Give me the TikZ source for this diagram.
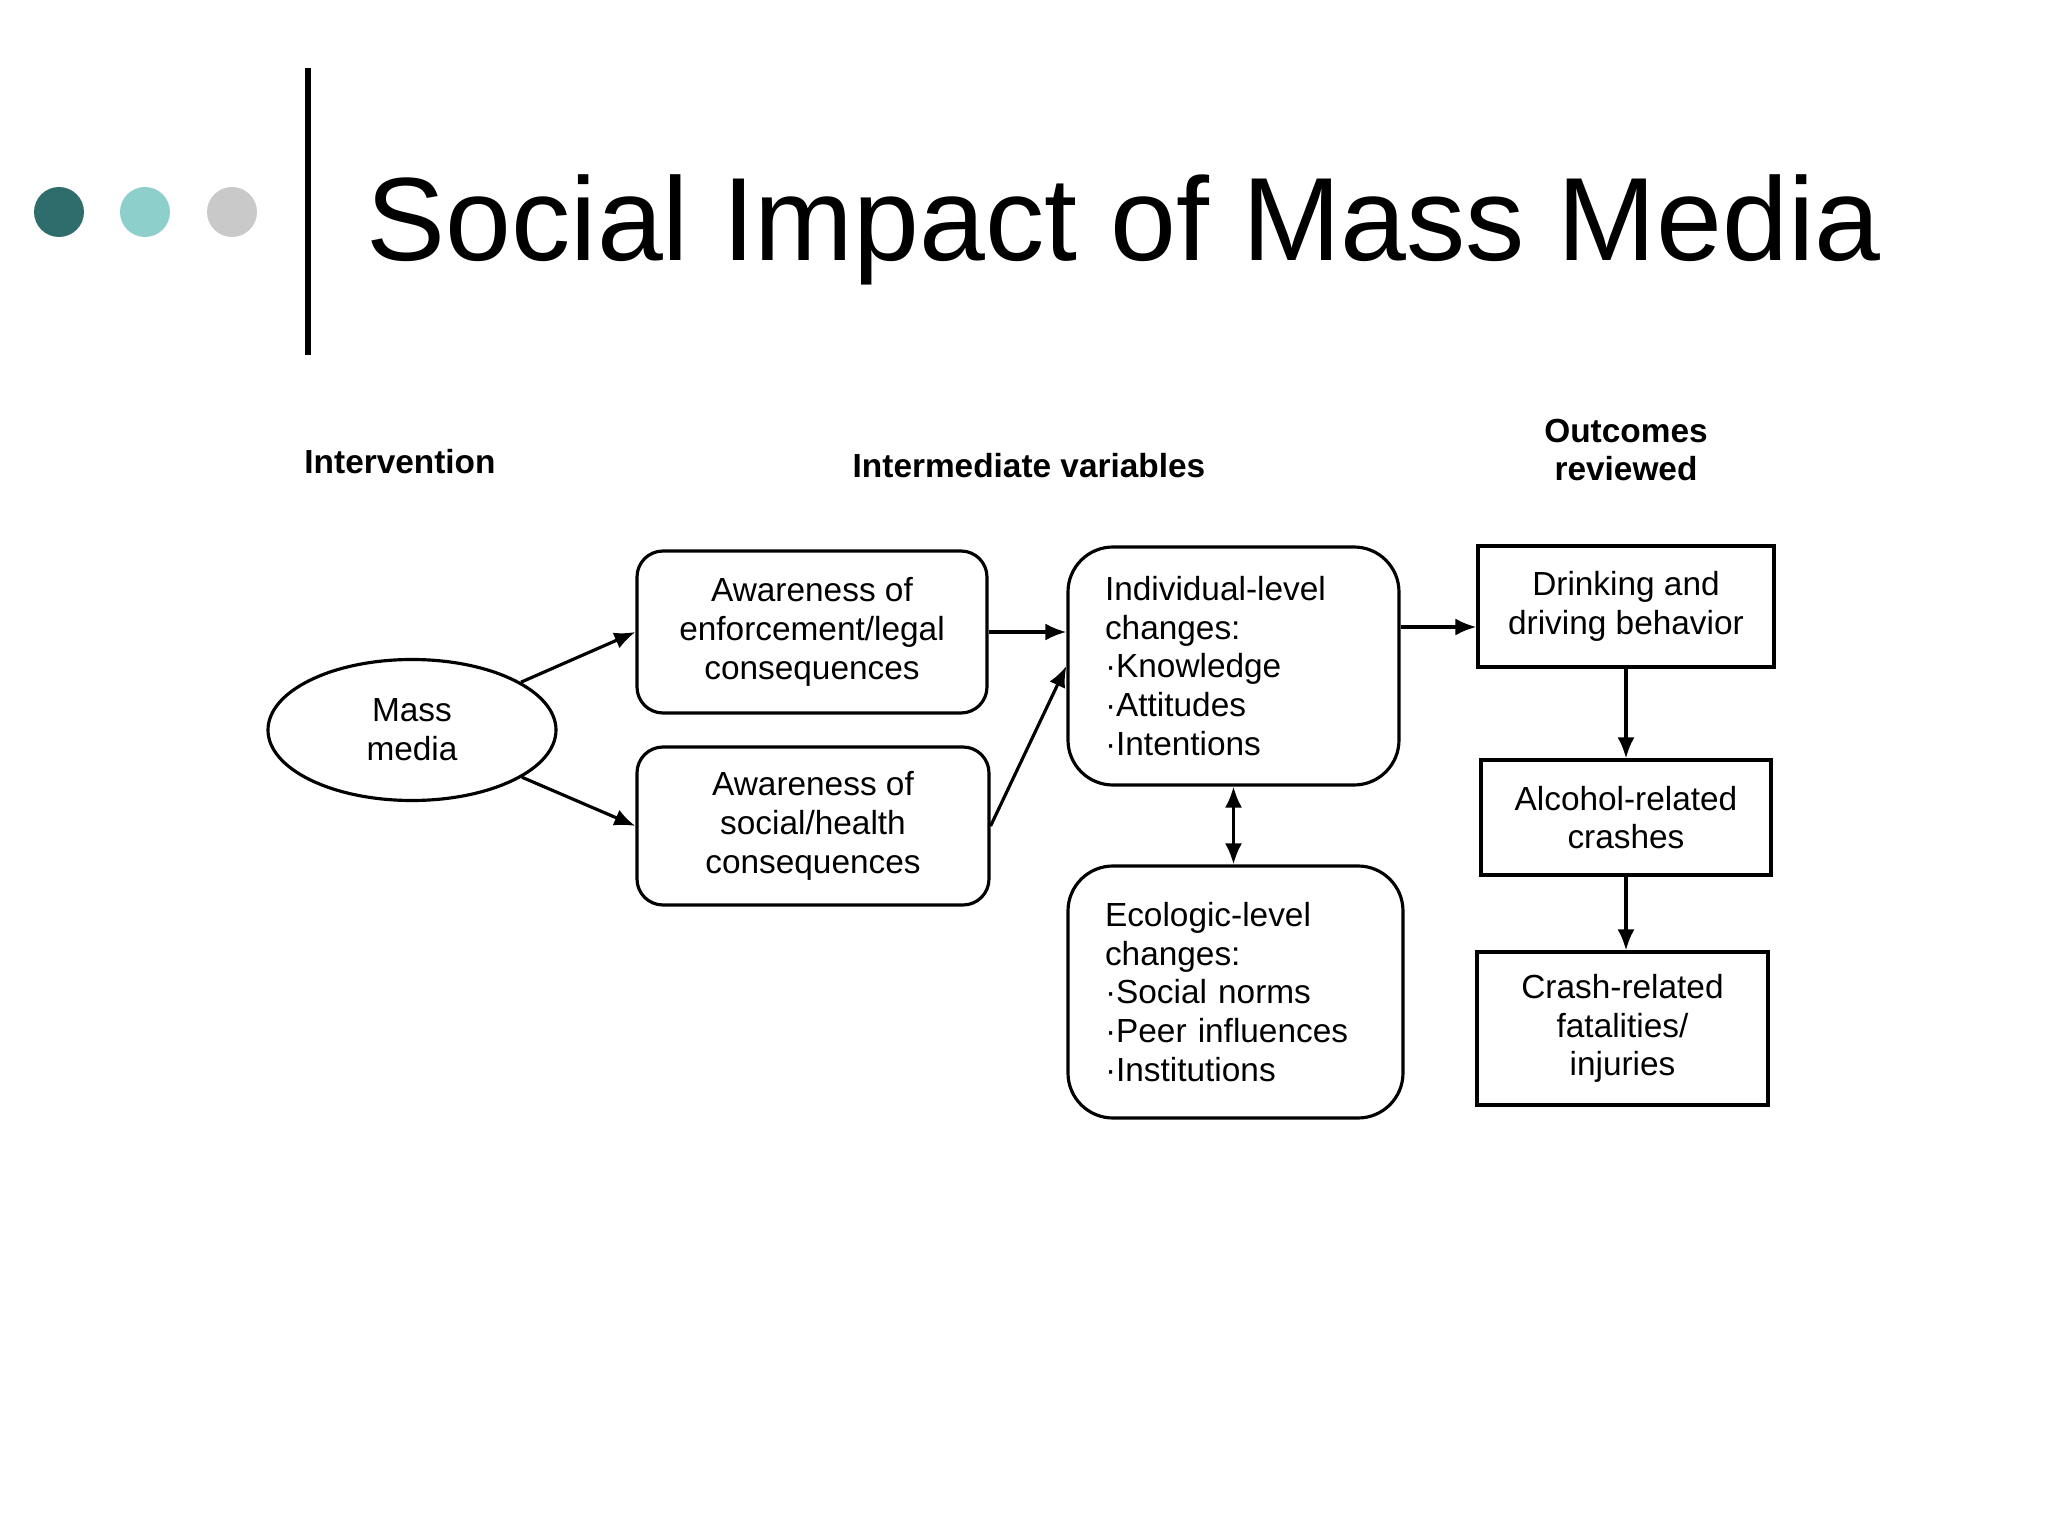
\documentclass[tikz,border=0pt]{standalone}
\usepackage{fontspec}
\setmainfont{Liberation Sans}
\usetikzlibrary{arrows.meta,shapes.geometric}
\definecolor{dotdark}{HTML}{2E6D6B}
\definecolor{dotmid}{HTML}{8DCFCA}
\definecolor{dotgray}{HTML}{C9C9C9}
\begin{document}
\begin{tikzpicture}[
        >={Latex[length=2.1mm,width=1.7mm]},
        txt/.style={font=\fontsize{9.5pt}{11pt}\selectfont},
        head/.style={font=\fontsize{9.5pt}{11pt}\selectfont\bfseries, align=center},
        rbox/.style={draw, line width=0.9pt, rounded corners=0.26cm, txt, align=center},
        sbox/.style={draw, line width=0.9pt, txt, align=center},
        lbox/.style={rbox, rounded corners=0.45cm, align=left, inner xsep=0.37cm},
        conn/.style={->, line width=0.9pt}
    ]
        \useasboundingbox (0,0) rectangle (20.48,-15.36);
        \foreach \x/\c in {0.59/dotdark,1.45/dotmid,2.32/dotgray}
            \fill[\c] (\x,-2.12) circle (0.25);
        \draw[line width=1.7pt] (3.08,-0.68) -- (3.08,-3.55);
        \node[anchor=base west, inner sep=0pt, font=\fontsize{33.7pt}{40pt}\selectfont] (title) at (3.66,-2.61) {Social Impact of Mass Media};
        \node[head] (hint) at (4.00,-4.62) {Intervention};
        \node[head] (hmid) at (10.29,-4.66) {Intermediate variables};
        \node[head] (hout) at (16.26,-4.50) {Outcomes\\reviewed};
        \node[ellipse, draw, line width=0.9pt, txt, align=center, minimum width=2.88cm, minimum height=1.41cm] (mass) at (4.12,-7.30) {Mass\\media};
        \node[rbox, minimum width=3.50cm, minimum height=1.62cm] (enf) at (8.12,-6.32) {Awareness of\\enforcement/legal\\consequences};
        \node[rbox, minimum width=3.52cm, minimum height=1.58cm] (soc) at (8.13,-8.26) {Awareness of\\social/health\\consequences};
        \node[lbox, text width=2.57cm, minimum height=2.38cm] (ind) at (12.335,-6.66) {Individual-level\\changes:\\·Knowledge\\·Attitudes\\·Intentions};
        \node[lbox, text width=2.61cm, minimum height=2.52cm] (eco) at (12.355,-9.92) {Ecologic-level\\changes:\\·Social norms\\·Peer influences\\·Institutions};
        \node[sbox, minimum width=2.96cm, minimum height=1.21cm] (drink) at (16.26,-6.065) {Drinking and\\driving behavior};
        \node[sbox, minimum width=2.90cm, minimum height=1.15cm] (alc) at (16.26,-8.175) {Alcohol-related\\crashes};
        \node[sbox, minimum width=2.91cm, minimum height=1.53cm] (crash) at (16.225,-10.285) {Crash-related\\fatalities/\\injuries};
        \coordinate (outy) at (0,-6.27);
        \draw[conn] (mass) -- (enf.west);
        \draw[conn] (mass) -- (soc.west);
        \draw[conn] (enf) -- (enf -| ind.west);
        \draw[conn] (soc.east) -- (ind.west);
        \draw[conn] (ind.east |- outy) -- (drink.west |- outy);
        \draw[conn, <->] (ind.south) -- (ind.south |- eco.north);
        \draw[conn] (drink) -- (alc);
        \draw[conn] (alc) -- (alc |- crash.north);
\end{tikzpicture}
\end{document}
